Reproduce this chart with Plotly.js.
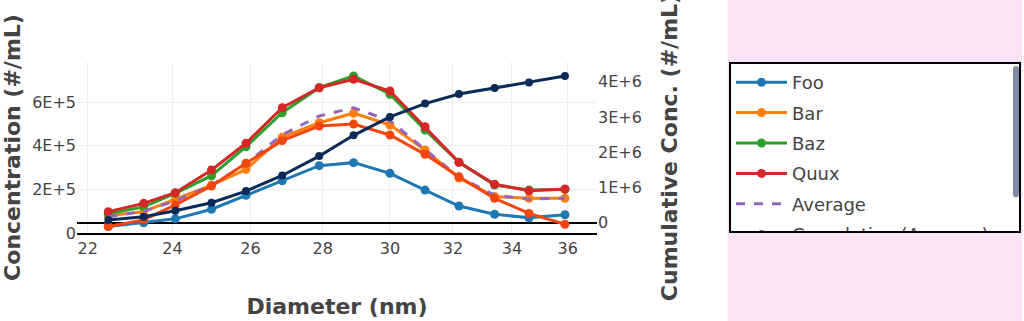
<!DOCTYPE html>
<html>
<head>
<meta charset="utf-8">
<script src="https://cdn.plot.ly/plotly-3.0.1.min.js"></script>
<style>
  html, body { margin: 0; padding: 0; background: #ffffff; }
  #chart { width: 1024px; height: 321px; }
</style>
</head>
<body>
<div id="chart"></div>
<script>
// Diameter (nm)
const diameter = [22.47, 23.3, 24.07, 24.98, 25.88, 26.86, 27.9, 28.9, 30.0, 31.1, 32.2, 33.4, 34.6, 35.9];
// Concentration (#/mL)
const foo  = [30000, 47000, 65000, 109000, 173000, 240000, 309000, 323000, 274000, 197000, 124000, 86000, 70000, 84000];
const bar  = [79000, 98000, 155000, 220000, 292000, 439000, 506000, 550000, 496000, 381000, 252000, 167000, 159000, 159000];
const baz  = [88000, 120000, 182000, 263000, 396000, 552000, 667000, 721000, 637000, 473000, 325000, 220000, 197000, 200000];
const quux = [98000, 136000, 185000, 289000, 412000, 575000, 667000, 706000, 652000, 488000, 325000, 224000, 194000, 202000];
const average = [74000, 100000, 147000, 220000, 318000, 451000, 537000, 575000, 515000, 385000, 256000, 174000, 155000, 161000];
const fit  = [30000, 60000, 129000, 216000, 320000, 424000, 491000, 500000, 450000, 361000, 258000, 159000, 90000, 40000];
// Cumulative Conc. (#/mL)
const cumulative = [76000, 170000, 340000, 567000, 898000, 1340000, 1890000, 2480000, 3000000, 3380000, 3650000, 3820000, 3980000, 4160000];

const seriesNames = ["Foo", "Bar", "Baz", "Quux", "Average", "Cumulative (Average)", "Lognormal fit (Average)"];
const xTicks = [22, 24, 26, 28, 30, 32, 34, 36];

function line(name, y, color, extra) {
  return Object.assign({
    type: "scatter", mode: "lines+markers", name: name, legendgroup: name, x: diameter, y: y,
    line: {color: color, width: 3}, marker: {color: color, size: 9}
  }, extra || {});
}

const traces = [
  line(seriesNames[0], foo, "#1f77b4"),
  line(seriesNames[1], bar, "#ff7f0e"),
  line(seriesNames[2], baz, "#2ca02c"),
  line(seriesNames[3], quux, "#d62728"),
  {type: "scatter", mode: "lines", name: seriesNames[4], legendgroup: seriesNames[4], x: diameter, y: average,
   line: {color: "#9467bd", width: 3, dash: "dash"}},
  line(seriesNames[5], cumulative, "#0a2a57", {yaxis: "y2", marker: {color: "#0a2a57", size: 8}}),
  line(seriesNames[6], fit, "#f2460f")
];

const fontFam = "DejaVu Sans, Verdana, sans-serif";
const L = 77, R = 426, T = 62, B = 88, W = 1024, H = 321;
const pw = W - L - R, ph = H - T - B;

const layout = {
  width: W, height: H,
  margin: {l: L, r: R, t: T, b: B, pad: 0},
  paper_bgcolor: "#ffffff", plot_bgcolor: "#ffffff",
  font: {family: fontFam, size: 16, color: "#444"},
  showlegend: true,
  legend: {
    x: (729 - L) / pw, xanchor: "left", y: 1, yanchor: "top",
    bgcolor: "#ffffff", bordercolor: "#000000", borderwidth: 2,
    itemwidth: 51, traceorder: "grouped", tracegroupgap: 4,
    font: {family: fontFam, size: 18, color: "#444"}
  },
  xaxis: {
    type: "log", range: [Math.log10(21.76), Math.log10(37.1)],
    tickvals: xTicks, ticktext: xTicks.map(String),
    showgrid: true, gridcolor: "#eee", showline: true, linecolor: "#000", linewidth: 1.5,
    zeroline: false, ticks: "",
    title: {text: "<b>Diameter (nm)</b>", standoff: 42, font: {family: fontFam, size: 22, color: "#444"}}
  },
  yaxis: {
    range: [0, 785000], dtick: 200000,
    exponentformat: "E",
    showgrid: true, gridcolor: "#eee", zeroline: true, zerolinecolor: "#000", zerolinewidth: 1.5,
    ticks: "",
    title: {text: "<b>Concentration (#/mL)</b>", standoff: 13, font: {family: fontFam, size: 22, color: "#444"}}
  },
  yaxis2: {
    overlaying: "y", side: "right", range: [-292000, 4559000], dtick: 1000000,
    exponentformat: "E",
    showgrid: false, zeroline: true, zerolinecolor: "#000", zerolinewidth: 1.5, ticks: "",
    title: {text: "<b>Cumulative Conc. (#/mL)</b>", standoff: 20, font: {family: fontFam, size: 22, color: "#444"}}
  },
  shapes: [{
    type: "rect", xref: "paper", yref: "paper", layer: "below",
    x0: (729 - L) / pw, x1: (W - L) / pw, y0: -B / ph, y1: 1 + T / ph,
    fillcolor: "#fce4f8", line: {width: 0}
  }]
};

Plotly.newPlot("chart", traces, layout, {displayModeBar: false});
</script>
</body>
</html>
